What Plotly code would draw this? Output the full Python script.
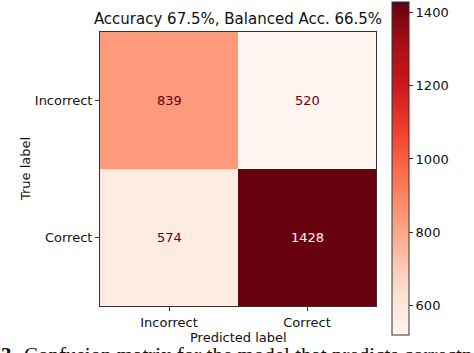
import plotly.graph_objects as go
import plotly.express as px

pred_labels = ["Incorrect", "Correct"]
true_labels = ["Incorrect", "Correct"]
counts = [[839, 520],
          [574, 1428]]
cbar_ticks = [600, 800, 1000, 1200, 1400]
title_text = "Accuracy 67.5%, Balanced Acc. 66.5%"
x_title = "Predicted label"
y_title = "True label"
caption_num = "<b>3</b>"
caption_text = "Confusion matrix for the model that predicts correctness"

W, H = 474, 353
ml, mr, mt, mb = 100, 98, 32, 47
ph = H - mt - mb
pw = W - ml - mr


def px_x(p):
    return (p - ml) / pw


def px_y(p):
    return (H - mb - p) / ph


reds = px.colors.sequential.Reds
zmin = min(min(r) for r in counts)
zmax = max(max(r) for r in counts)
thresh = (zmin + zmax) / 2

fig = go.Figure(go.Heatmap(
    z=counts, x=pred_labels, y=true_labels,
    colorscale=reds, zmin=zmin, zmax=zmax,
    showscale=True, hoverinfo="skip",
    colorbar=dict(
        thickness=17, thicknessmode="pixels",
        len=333, lenmode="pixels",
        x=px_x(392), xanchor="left", xref="paper",
        y=px_y(168.5), yanchor="middle", yref="paper",
        xpad=0, ypad=0,
        outlinecolor="#333", outlinewidth=1,
        tickvals=cbar_ticks, ticks="outside", ticklen=4, tickcolor="#333",
        tickfont=dict(size=13, color="#111", family="DejaVu Sans"),
    ),
))

for i, tl in enumerate(true_labels):
    for j, pl in enumerate(pred_labels):
        v = counts[i][j]
        fig.add_annotation(
            x=pl, y=tl, text=str(v), showarrow=False,
            font=dict(size=13, family="DejaVu Sans",
                      color=reds[0] if v > thresh else reds[-1]),
        )

fig.add_annotation(xref="paper", yref="paper", x=0.5, y=px_y(337),
                   xanchor="center", yanchor="middle", text=x_title, showarrow=False,
                   font=dict(size=13, family="DejaVu Sans", color="#111"))
fig.add_annotation(xref="paper", yref="paper", x=px_x(25), y=px_y(169),
                   xanchor="center", yanchor="middle", text=y_title, showarrow=False,
                   textangle=-90,
                   font=dict(size=13, family="DejaVu Sans", color="#111"))

cap_y = px_y(341)
fig.add_annotation(xref="paper", yref="paper", x=px_x(14), y=cap_y,
                   xanchor="right", yanchor="top", text=caption_num, showarrow=False,
                   font=dict(size=21, family="Liberation Serif", color="#111"))
fig.add_annotation(xref="paper", yref="paper", x=px_x(22), y=cap_y,
                   xanchor="left", yanchor="top", text=caption_text, showarrow=False,
                   font=dict(size=21, family="Liberation Serif", color="#111"))

fig.update_layout(
    width=W, height=H,
    margin=dict(l=ml, r=mr, t=mt, b=mb, autoexpand=False),
    paper_bgcolor="white", plot_bgcolor="white",
    font=dict(family="DejaVu Sans", color="#111"),
    title=dict(text=title_text, x=0.5, xref="paper", xanchor="center",
               y=1 - 19 / H, yref="container", yanchor="middle",
               font=dict(size=15, family="DejaVu Sans", color="#111")),
    xaxis=dict(showline=True, mirror=True, linecolor="#333", linewidth=1,
               ticks="outside", ticklen=4, tickcolor="#333", automargin=False,
               tickfont=dict(size=13), showgrid=False, zeroline=False),
    yaxis=dict(showline=True, mirror=True, linecolor="#333", linewidth=1,
               ticks="outside", ticklen=4, tickcolor="#333", autorange="reversed",
               automargin=False,
               tickfont=dict(size=13), showgrid=False, zeroline=False),
)

fig.write_html("out.html")
